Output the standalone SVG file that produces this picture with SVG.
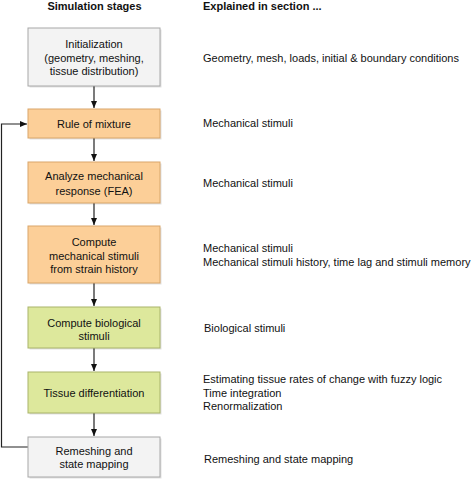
<svg xmlns="http://www.w3.org/2000/svg" width="474" height="482" viewBox="0 0 474 482">
<style>
text{font-family:"Liberation Sans",Arial,sans-serif;font-size:11px;fill:#111}
.t{font-weight:bold}
.c{text-anchor:middle}
.box{stroke-width:1}
.gray{fill:#f3f3f3;stroke:#a8a8a8}
.orange{fill:#fccf98;stroke:#d9a66a}
.green{fill:#dde89c;stroke:#a9b46a}
.sh{fill:#000;opacity:0.12}
.con{stroke:#222;stroke-width:1.2;fill:none}
</style>
<defs>
<marker id="ah" markerWidth="8" markerHeight="8" refX="7" refY="4" orient="auto" markerUnits="userSpaceOnUse">
<path d="M0,1 L7,4 L0,7 Z" fill="#111"/>
</marker>
</defs>
<rect width="474" height="482" fill="#fff"/>
<text class="t c" x="94.5" y="10">Simulation stages</text>
<text class="t" x="203" y="10">Explained in section ...</text>

<g id="connectors">
<line class="con" x1="94" y1="86" x2="94" y2="108" marker-end="url(#ah)"/>
<line class="con" x1="94" y1="138" x2="94" y2="161" marker-end="url(#ah)"/>
<line class="con" x1="94" y1="203" x2="94" y2="225" marker-end="url(#ah)"/>
<line class="con" x1="94" y1="283" x2="94" y2="306" marker-end="url(#ah)"/>
<line class="con" x1="94" y1="348" x2="94" y2="371" marker-end="url(#ah)"/>
<line class="con" x1="94" y1="413" x2="94" y2="436" marker-end="url(#ah)"/>
<path class="con" d="M28,447 H1.5 V124 H27" marker-end="url(#ah)"/>
</g>

<g id="n1">
<rect class="sh" x="29.5" y="29.5" width="132" height="58"/>
<rect class="box gray" x="28" y="28" width="132" height="58"/>
<text class="c" x="94" y="48">Initialization</text>
<text class="c" x="94" y="62">(geometry, meshing,</text>
<text class="c" x="94" y="75">tissue distribution)</text>
</g>
<g id="n2">
<rect class="sh" x="29.5" y="110.5" width="132" height="29"/>
<rect class="box orange" x="28" y="109" width="132" height="29"/>
<text class="c" x="94" y="127.5">Rule of mixture</text>
</g>
<g id="n3">
<rect class="sh" x="29.5" y="163.5" width="132" height="41"/>
<rect class="box orange" x="28" y="162" width="132" height="41"/>
<text class="c" x="94" y="180">Analyze mechanical</text>
<text class="c" x="94" y="194.5">response (FEA)</text>
</g>
<g id="n4">
<rect class="sh" x="29.5" y="227.5" width="132" height="57"/>
<rect class="box orange" x="28" y="226" width="132" height="57"/>
<text class="c" x="94" y="245.5">Compute</text>
<text class="c" x="94" y="259.5">mechanical stimuli</text>
<text class="c" x="94" y="273">from strain history</text>
</g>
<g id="n5">
<rect class="sh" x="29.5" y="308.5" width="132" height="41"/>
<rect class="box green" x="28" y="307" width="132" height="41"/>
<text class="c" x="94" y="326.5">Compute biological</text>
<text class="c" x="94" y="339.5">stimuli</text>
</g>
<g id="n6">
<rect class="sh" x="29.5" y="373.5" width="132" height="41"/>
<rect class="box green" x="28" y="372" width="132" height="41"/>
<text class="c" x="94" y="396.5">Tissue differentiation</text>
</g>
<g id="n7">
<rect class="sh" x="29.5" y="438.5" width="132" height="40"/>
<rect class="box gray" x="28" y="437" width="132" height="40"/>
<text class="c" x="94" y="455">Remeshing and</text>
<text class="c" x="94" y="468">state mapping</text>
</g>

<g id="explanations">
<text x="203" y="62">Geometry, mesh, loads, initial &amp; boundary conditions</text>
<text x="203" y="127">Mechanical stimuli</text>
<text x="203" y="187">Mechanical stimuli</text>
<text x="203" y="252">Mechanical stimuli</text>
<text x="203" y="265.5">Mechanical stimuli history, time lag and stimuli memory</text>
<text x="204" y="332">Biological stimuli</text>
<text x="203" y="383">Estimating tissue rates of change with fuzzy logic</text>
<text x="203" y="397">Time integration</text>
<text x="203" y="410">Renormalization</text>
<text x="204" y="463">Remeshing and state mapping</text>
</g>
</svg>
